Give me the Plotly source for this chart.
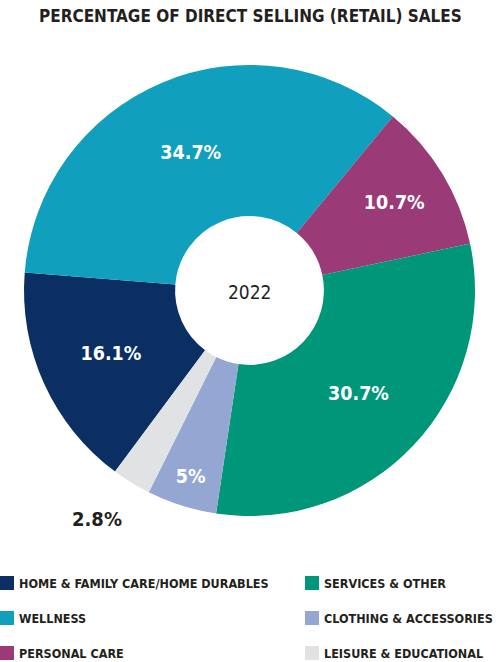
import plotly.graph_objects as go

# Data (clockwise order starting at Home & Family Care)
categories = ["HOME & FAMILY CARE/HOME DURABLES", "WELLNESS", "PERSONAL CARE",
              "SERVICES & OTHER", "CLOTHING & ACCESSORIES", "LEISURE & EDUCATIONAL"]
values = [16.1, 34.7, 10.7, 30.7, 5, 2.8]
colors = ["#0B2F63", "#109FBD", "#9A3B77", "#00967A", "#93A7D2", "#E1E2E4"]
center_label = "2022"
title_text = "PERCENTAGE OF DIRECT SELLING (RETAIL) SALES"

# legend layout order (two columns, row-wise)
legend_order = ["HOME & FAMILY CARE/HOME DURABLES", "SERVICES & OTHER",
                "WELLNESS", "CLOTHING & ACCESSORIES",
                "PERSONAL CARE", "LEISURE & EDUCATIONAL"]

FONT = "DejaVu Sans Condensed, sans-serif"
W, H = 500, 662

texts = [f"<b>{v:g}%</b>" if v >= 4 else "" for v in values]

fig = go.Figure()
fig.add_trace(go.Pie(
    labels=categories, values=values, sort=False, direction="clockwise",
    rotation=216.6, hole=0.33,
    marker=dict(colors=colors, line=dict(width=0)),
    text=texts, textinfo="text", textposition="inside",
    insidetextorientation="horizontal",
    textfont=dict(family=FONT, size=19.5, color="white"),
    domain=dict(x=[22 / W, 477 / W], y=[1 - 516 / H, 1 - 65 / H]),
    showlegend=False, hoverinfo="label+value",
))

annotations = [
    dict(text=f"<b>{title_text}</b>", x=0.5, y=1 - 16 / H, xref="paper", yref="paper",
         showarrow=False, font=dict(family=FONT, size=17, color="#231F20"),
         xanchor="center", yanchor="middle"),
    dict(text=center_label, x=(22 + 477) / 2 / W, y=1 - 292 / H, xref="paper", yref="paper",
         showarrow=False, font=dict(family=FONT, size=19, color="#231F20"),
         xanchor="center", yanchor="middle"),
]
# small slice label outside
small_idx = values.index(min(values))
annotations.append(dict(text=f"<b>{values[small_idx]:g}%</b>", x=97 / W, y=1 - 519 / H,
                        xref="paper", yref="paper", showarrow=False,
                        font=dict(family=FONT, size=20, color="#231F20"),
                        xanchor="center", yanchor="middle"))

shapes = []
col_x = [0, 305]
row_y = [583, 618, 653]
for i, name in enumerate(legend_order):
    c = colors[categories.index(name)]
    cx = col_x[i % 2]
    ry = row_y[i // 2]
    shapes.append(dict(type="rect", xref="paper", yref="paper",
                       x0=cx / W, x1=(cx + 14) / W,
                       y0=1 - (ry + 7) / H, y1=1 - (ry - 7) / H,
                       fillcolor=c, line=dict(width=0)))
    annotations.append(dict(text=f"<b>{name}</b>", x=(cx + 17) / W, y=1 - ry / H,
                            xref="paper", yref="paper", showarrow=False,
                            xanchor="left", yanchor="middle",
                            font=dict(family=FONT, size=12.5, color="#231F20")))

fig.update_layout(
    width=W, height=H, margin=dict(l=0, r=0, t=0, b=0),
    paper_bgcolor="white", plot_bgcolor="white",
    annotations=annotations, shapes=shapes,
)
fig.write_html("out.html", config={"displayModeBar": False},
               post_script="document.body.style.margin='0';document.body.style.overflow='hidden';")
